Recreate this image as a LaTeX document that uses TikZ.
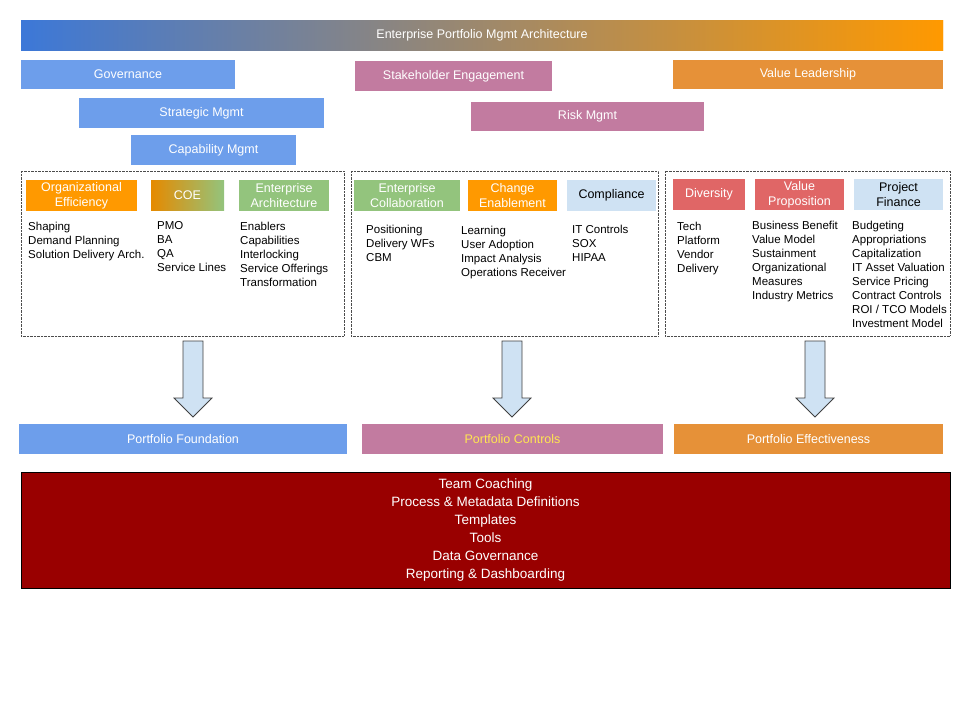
\documentclass[tikz,border=0pt]{standalone}
\usepackage{fontspec}
\setmainfont{Liberation Sans}
\begin{document}
\definecolor{cblue}{HTML}{6D9EEB}
\definecolor{cpink}{HTML}{C27BA0}
\definecolor{corange}{HTML}{E69138}
\definecolor{borange}{HTML}{FF9900}
\definecolor{cgreen}{HTML}{93C47D}
\definecolor{lblue}{HTML}{CFE2F3}
\definecolor{cred}{HTML}{E06666}
\definecolor{dred}{HTML}{990000}
\begin{tikzpicture}[x=1pt,y=-1pt,
  every node/.style={font=\fontsize{12.5}{14}\selectfont, inner sep=0pt},
  bar/.style={draw=none, text=white},
  sub/.style={draw=none, text=white, align=center, font=\fontsize{12.5}{15}\selectfont},
  lst/.style={anchor=north west, align=left, text=black, font=\fontsize{11.5}{14}\selectfont},
  grp/.style={draw=black!70, densely dotted},
  barrow/.style={fill=lblue, draw=black!75, line width=0.8pt}]
\useasboundingbox (0,0) rectangle (960,720);
% title
\shade[left color=blue!60!cyan!70!black!80, right color=borange] (21,20) rectangle (943,50);
\fill[left color={rgb,255:red,60;green,120;blue,216}, right color=borange] (21,20) rectangle (943,50);
\node[text=white] (title) at (482,35) {Enterprise Portfolio Mgmt Architecture};
% top level
\fill[cblue] (21,60) rectangle (235,89); \node[text=white] (gov) at (128,74.5) {Governance};
\fill[cpink] (355,61) rectangle (552,91); \node[text=white] (stake) at (453.5,76) {Stakeholder Engagement};
\fill[corange] (673,60) rectangle (943,89); \node[text=white] (val) at (808,74.5) {Value Leadership};
\fill[cblue] (79,98) rectangle (324,128); \node[text=white] (strat) at (201.5,113) {Strategic Mgmt};
\fill[cpink] (471,102) rectangle (704,131); \node[text=white] (risk) at (587.5,116.5) {Risk Mgmt};
\fill[cblue] (131,135) rectangle (296,165); \node[text=white] (cap) at (213.5,150) {Capability Mgmt};
% groups
\draw[grp] (21,171) rectangle (344,336);
\draw[grp] (351,171) rectangle (658,336);
\draw[grp] (665,171) rectangle (950,336);
% sub headers
\fill[borange] (26,180) rectangle (137,211); \node[sub] (oe) at (81.5,195.5) {Organizational\\Efficiency};
\fill[left color=borange!90!black, right color=cgreen] (151,180) rectangle (224,210); \node[sub] (coe) at (187.5,195) {COE};
\fill[cgreen] (239,180) rectangle (329,211); \node[sub] (ea) at (284,195.5) {Enterprise\\Architecture};
\fill[cgreen] (354,180) rectangle (460,211); \node[sub] (ec) at (407,195.5) {Enterprise\\Collaboration};
\fill[borange] (468,180) rectangle (557,211); \node[sub] (ce) at (512.5,195.5) {Change\\Enablement};
\fill[lblue] (567,180) rectangle (656,211); \node[sub,text=black] (comp) at (611.5,195.5) {Compliance};
\fill[cred] (673,179) rectangle (745,210); \node[sub] (div) at (709,194.5) {Diversity};
\fill[cred] (755,179) rectangle (844,210); \node[sub] (vp) at (799.5,194.5) {Value\\Proposition};
\fill[lblue] (854,179) rectangle (943,210); \node[sub,text=black] (pf) at (898.5,194.5) {Project\\Finance};
% lists
\node[lst] (l1) at (28,222) {Shaping\\Demand Planning\\Solution Delivery Arch.};
\node[lst] (l2) at (157,221) {PMO\\BA\\QA\\Service Lines};
\node[lst] (l3) at (240,222) {Enablers\\Capabilities\\Interlocking\\Service Offerings\\Transformation};
\node[lst] (l4) at (366,225) {Positioning\\Delivery WFs\\CBM};
\node[lst] (l5) at (461,226) {Learning\\User Adoption\\Impact Analysis\\Operations Receiver};
\node[lst] (l6) at (572,225) {IT Controls\\SOX\\HIPAA};
\node[lst] (l7) at (677,222) {Tech\\Platform\\Vendor\\Delivery};
\node[lst] (l8) at (752,221) {Business Benefit\\Value Model\\Sustainment\\Organizational\\Measures\\Industry Metrics};
\node[lst] (l9) at (852,221) {Budgeting\\Appropriations\\Capitalization\\IT Asset Valuation\\Service Pricing\\Contract Controls\\ROI / TCO Models\\Investment Model};
% block arrows
\foreach \cx in {193,512,815}{
  \draw[barrow] (\cx-10,341) -- (\cx+10,341) -- (\cx+10,398) -- (\cx+19,398) -- (\cx,417) -- (\cx-19,398) -- (\cx-10,398) -- cycle;
}
% bottom bars
\fill[cblue] (19,424) rectangle (347,454); \node[text=white] (pfd) at (183,439) {Portfolio Foundation};
\fill[cpink] (362,424) rectangle (663,454); \node[text={rgb,255:red,255;green,230;blue,80}] (pc) at (512.5,439) {Portfolio Controls};
\fill[corange] (674,424) rectangle (943,454); \node[text=white] (pe) at (808.5,439) {Portfolio Effectiveness};
% big box
\draw[fill=dred, draw=black, line width=0.8pt] (21,472) rectangle (950,588);
\node[text=white, align=center, font=\fontsize{13.5}{18}\selectfont] (team) at (485.5,530) {Team Coaching\\Process \& Metadata Definitions\\Templates\\Tools\\Data Governance\\Reporting \& Dashboarding};
\end{tikzpicture}
\end{document}
